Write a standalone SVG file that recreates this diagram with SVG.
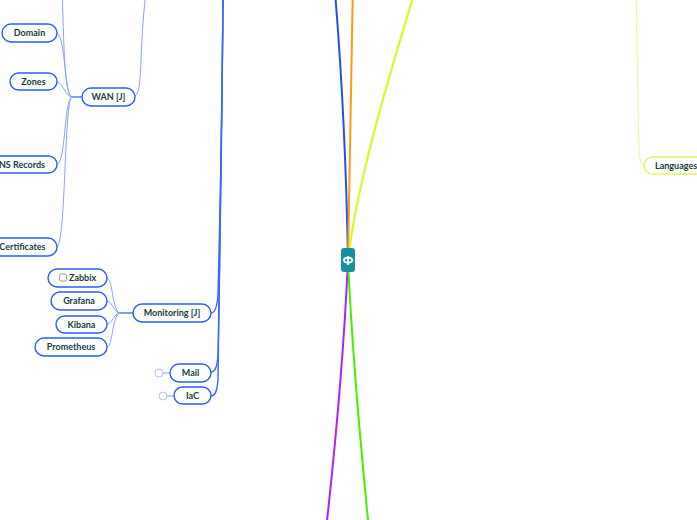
<svg xmlns="http://www.w3.org/2000/svg" width="697" height="520" viewBox="0 0 697 520">
<style>
.n rect{fill:#fff;stroke:#2a5cff;stroke-width:1.4}
.n text{font-family:Lato,"Noto Sans",sans-serif;font-weight:bold;font-size:9px;fill:#143f36;text-anchor:middle;dominant-baseline:central}
.n text.e{text-anchor:end}
.n text.s{text-anchor:start}
.sub{fill:none;stroke:#86a2ff;stroke-width:1}
.br{fill:none;stroke-width:2;stroke-linecap:round}
</style>
<rect width="697" height="520" fill="#fff"/>
<g id="connectors">
  <path class="br" stroke="#2450ee" d="M348,260 C346,150 340,50 334,-20"/>
  <path class="br" stroke="#ff9a10" d="M348,260 C350,150 352,50 353,-20"/>
  <path class="br" stroke="#d0ff10" d="M348,260 C355,200 375,120 416,-12"/>
  <path class="br" stroke="#aa22ff" d="M348,260 C344,350 336,440 326,530"/>
  <path class="br" stroke="#44f000" d="M348,260 C352,350 360,440 369,530"/>
  <path fill="none" stroke="#3a66ff" stroke-width="1.4" d="M223,-10 C222,150 219,250 218,295 C217,308 215,313 211,313"/>
  <path fill="none" stroke="#3a66ff" stroke-width="1.4" d="M223,-10 C222,150 219,300 218,355 C217,368 215,372 211,372"/>
  <path fill="none" stroke="#3a66ff" stroke-width="1.4" d="M223,-10 C222,150 219,320 218,380 C217,392 215,396 211,396"/>
  <path class="sub" stroke-width="1.2" d="M135,96 C140,92 140,80 141,60 C142,30 144,10 146,-10"/>
  <path fill="none" stroke="#2a5cff" stroke-width="1.2" d="M82,97 L72,97"/>
  <path class="sub" d="M72,97 C64,95 64,40 62,-10"/>
  <path class="sub" d="M72,97 C64,96 66,38 57,33"/>
  <path class="sub" d="M72,97 C66,97 63,83 57,82"/>
  <path class="sub" d="M72,97 C64,100 66,160 57,165"/>
  <path class="sub" d="M72,97 C64,100 66,242 57,247"/>
  <path fill="none" stroke="#2a5cff" stroke-width="1.2" d="M133,313 L120,313"/>
  <path class="sub" d="M120,313 C112,311 113,279 107,278"/>
  <path class="sub" d="M120,313 C113,312 113,302 107,301"/>
  <path class="sub" d="M120,313 C113,314 113,323 107,324"/>
  <path class="sub" d="M120,313 C112,315 113,346 107,347"/>
  <path fill="none" stroke="#eef8a0" stroke-width="1.2" d="M636,-10 C637,60 638,120 639,150 C640,162 641,165 644,165"/>
  <path class="sub" d="M163,373 L170,373"/>
  <path class="sub" d="M167,396 L174,396"/>
</g>
<g id="center">
  <rect x="341" y="248" width="14" height="24" rx="3" fill="#17909c"/>
  <text x="348" y="265" font-family="'Noto Sans','DejaVu Sans',sans-serif" font-weight="bold" font-size="12" fill="#fff" text-anchor="middle">Φ</text>
</g>
<g id="wan" class="n"><rect x="82" y="88" width="53" height="18" rx="9"/><text x="108.5" y="96.5">WAN [J]</text></g>
<g id="domain" class="n"><rect x="2" y="24" width="55" height="18" rx="9"/><text x="29.5" y="32.5">Domain</text></g>
<g id="zones" class="n"><rect x="10" y="73" width="47" height="17" rx="8.5"/><text x="33.5" y="81.5">Zones</text></g>
<g id="dns" class="n"><rect x="-20" y="156" width="77" height="17" rx="8.5"/><text class="e" x="45" y="164.5">DNS Records</text></g>
<g id="certificates" class="n"><rect x="-20" y="238" width="77" height="18" rx="9"/><text class="e" x="45.5" y="246.5">Certificates</text></g>
<g id="monitoring" class="n"><rect x="133" y="304" width="78" height="18" rx="9"/><text x="172" y="312.5">Monitoring [J]</text></g>
<g id="zabbix" class="n"><rect x="48" y="269" width="59" height="18" rx="9"/><rect x="59.5" y="274" width="7" height="7" rx="1.2" style="stroke:#888;stroke-width:0.8"/><text class="s" x="69" y="277.5">Zabbix</text></g>
<g id="grafana" class="n"><rect x="51" y="292" width="56" height="18" rx="9"/><text x="79" y="300.5">Grafana</text></g>
<g id="kibana" class="n"><rect x="56" y="316" width="51" height="17" rx="8.5"/><text x="81.5" y="324">Kibana</text></g>
<g id="prometheus" class="n"><rect x="35" y="338" width="72" height="18" rx="9"/><text x="71" y="346.5">Prometheus</text></g>
<g id="mail" class="n"><rect x="170" y="364" width="41" height="18" rx="9"/><text x="190.5" y="372.5">Mail</text><circle cx="159" cy="373" r="4" fill="#fff" stroke="#9ab0ff" stroke-width="0.8"/></g>
<g id="iac" class="n"><rect x="174" y="387" width="37" height="17" rx="8.5"/><text x="192.5" y="395.5">IaC</text><circle cx="163" cy="396" r="4" fill="#fff" stroke="#9ab0ff" stroke-width="0.8"/></g>
<g id="languages" class="n"><rect x="644" y="157" width="80" height="17" rx="8.5" style="stroke:#ddf760"/><text class="s" x="655" y="165">Languages</text></g>
</svg>
